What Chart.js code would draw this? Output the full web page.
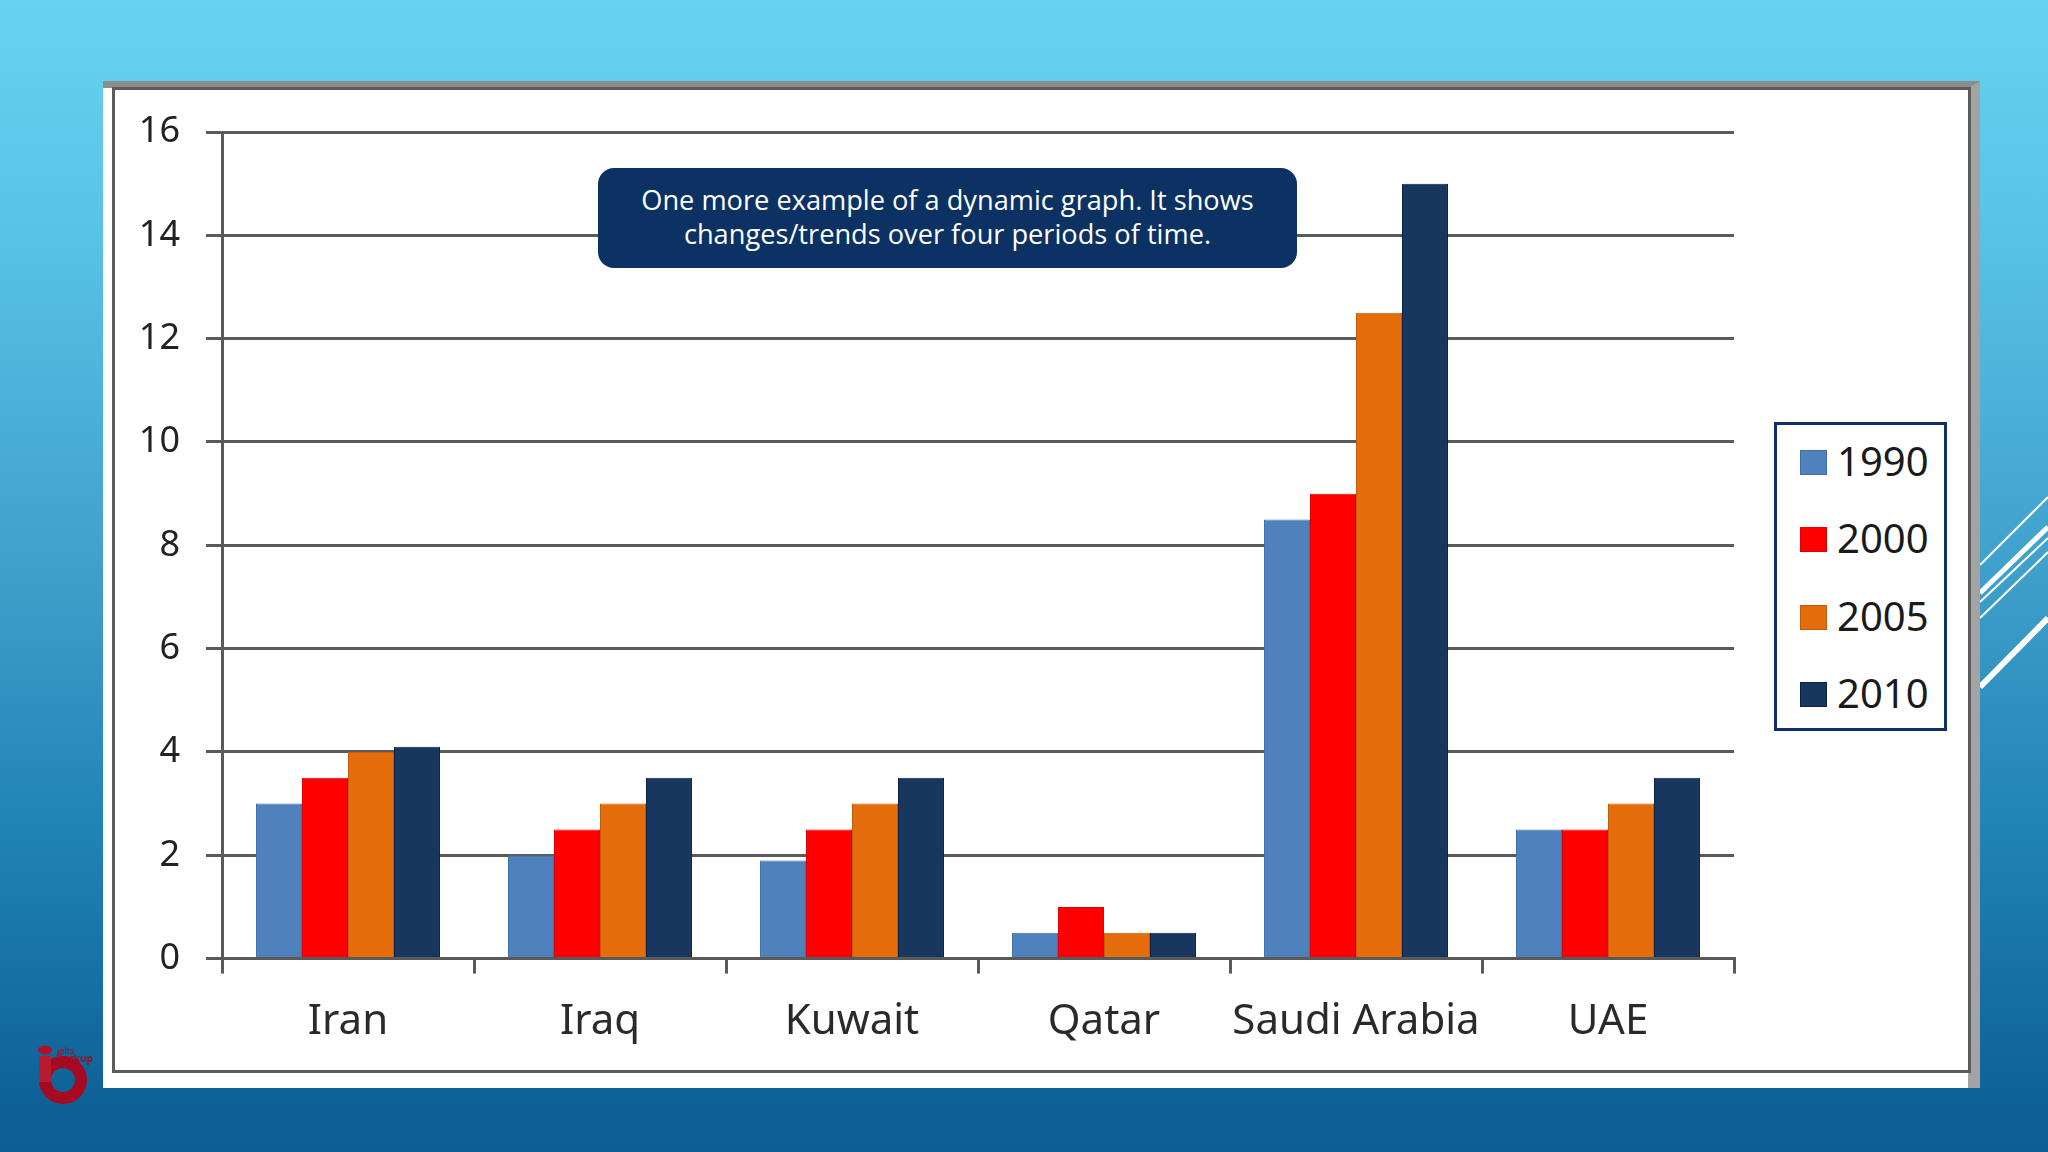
<!DOCTYPE html>
<html>
<head>
<meta charset="utf-8">
<title>Dynamic graph</title>
<script src="https://cdn.jsdelivr.net/npm/chart.js@4"></script>
<style>
    html, body { margin: 0; padding: 0; }
    body {
        position: relative; width: 2048px; height: 1152px; overflow: hidden;
        background: linear-gradient(180deg, #66d4f1 0%, #58c3e6 20%, #3f9fcb 50%, #2083b6 72%, #0f6298 95%, #0d5e95 100%);
        font-family: "Noto Sans", sans-serif;
    }
    #panel { position: absolute; left: 103px; top: 81px; width: 1877px; height: 1007px; background: #fff; box-sizing: border-box;
             border-top: 7px solid #8c8c8c; border-right: 12px solid #a3a3a3; }
    #frame { position: absolute; left: 112px; top: 87px; width: 1859px; height: 986px; box-sizing: border-box; border: 3px solid #5c5c5c; }
    #chart { position: absolute; left: 0; top: 0; }
    #callout { position: absolute; left: 598px; top: 168px; width: 699px; height: 100px; border-radius: 16px; background: #0c3263; color: #fff;
               font: 27.2px/34px "Open Sans", sans-serif; text-align: center; box-sizing: border-box; padding-top: 15px; }
    #legend { position: absolute; left: 1774px; top: 422px; width: 173px; height: 309px; box-sizing: border-box; border: 3px solid #0f2f66; background: #fff; }
    #legend div { position: absolute; left: 60px; font-size: 40px; line-height: 40px; color: #1a1a1a; white-space: nowrap; }
    #legend i { position: absolute; left: -37px; top: 9px; width: 27px; height: 25px; box-sizing: border-box; border: 1px solid; }
    #deco, #logo { position: absolute; left: 0; top: 0; }
</style>
</head>
<body>
<svg id="deco" width="2048" height="1152">
    <g stroke="#fff" fill="none">
        <line x1="1980" y1="565" x2="2048" y2="497" stroke-width="2"/>
        <line x1="1980" y1="593" x2="2048" y2="527" stroke-width="5"/>
        <line x1="1980" y1="602" x2="2048" y2="538" stroke-width="2"/>
        <line x1="1980" y1="618" x2="2048" y2="552" stroke-width="2"/>
        <line x1="1980" y1="687" x2="2048" y2="618" stroke-width="6"/>
    </g>
</svg>
<div id="panel"></div>
<div id="frame"></div>
<canvas id="chart" width="2048" height="1152"></canvas>
<div id="callout">One more example of a dynamic graph. It shows<br>changes/trends over four periods of time.</div>
<div id="legend"></div>
<svg id="logo" width="2048" height="1152">
    <ellipse cx="45" cy="1050" rx="7" ry="4.5" fill="#b0102a"/>
    <circle cx="63" cy="1080" r="18" fill="none" stroke="#a50a22" stroke-width="12"/>
    <rect x="39" y="1056" width="12" height="26" fill="#b81a30"/>
    <text x="57" y="1054" font-family="Noto Sans" font-size="9" fill="#a50a22">ielts</text>
    <text x="56" y="1062" font-family="Noto Sans" font-weight="bold" font-size="10" fill="#a50a22">Backup</text>
</svg>
<script>
    const categories = ['Iran', 'Iraq', 'Kuwait', 'Qatar', 'Saudi Arabia', 'UAE'];
    const years = ['1990', '2000', '2005', '2010'];
    const values1990 = [3, 2, 1.9, 0.5, 8.5, 2.5];
    const values2000 = [3.5, 2.5, 2.5, 1, 9, 2.5];
    const values2005 = [4, 3, 3, 0.5, 12.5, 3];
    const values2010 = [4.1, 3.5, 3.5, 0.5, 15, 3.5];
    const fills = ['#4f81bd', '#ff0000', '#e46c0a', '#17375e'];
    const edges = ['#3f6fa8', '#e00000', '#c55c08', '#0c2044'];

    const series = [values1990, values2000, values2005, values2010];

    const ctx = document.getElementById('chart').getContext('2d');
    new Chart(ctx, {
        type: 'bar',
        data: {
            labels: categories,
            datasets: series.map(function (vals, i) {
                return { label: years[i], data: vals, backgroundColor: fills[i], borderColor: edges[i], borderWidth: 1 };
            })
        },
        options: {
            responsive: false,
            animation: false,
            // el area del grafico queda fija con estos margenes
            layout: { padding: { left: 120, right: 314, top: 132, bottom: 82 } },
            plugins: { legend: { display: false }, tooltip: { enabled: false } },
            datasets: { bar: { categoryPercentage: 0.73, barPercentage: 1 } },
            scales: {
                x: {
                    offset: true,
                    grid: { color: '#5a5a5a', lineWidth: 3, tickLength: 15, drawOnChartArea: false, offset: true },
                    border: { color: '#5a5a5a', width: 3 },
                    ticks: { color: '#2a2a2a', font: { family: 'Noto Sans', size: 42 }, padding: 23, maxRotation: 0, autoSkip: false }
                },
                y: {
                    min: 0,
                    max: 16,
                    grid: { color: '#5a5a5a', lineWidth: 3, tickLength: 16 },
                    border: { color: '#5a5a5a', width: 3 },
                    ticks: { stepSize: 2, color: '#222222', font: { family: 'Noto Sans', size: 36 }, padding: 26 },
                    afterFit: function (axis) { axis.width = 102; }
                }
            }
        }
    });

    // Leyenda en HTML, armada con los mismos arreglos
    const legendTops = [16, 93, 171, 248];
    const legend = document.getElementById('legend');
    years.forEach(function (year, i) {
        const row = document.createElement('div');
        row.style.top = legendTops[i] + 'px';
        row.textContent = year;
        const box = document.createElement('i');
        box.style.background = fills[i];
        box.style.borderColor = edges[i];
        row.appendChild(box);
        legend.appendChild(row);
    });
</script>
</body>
</html>
